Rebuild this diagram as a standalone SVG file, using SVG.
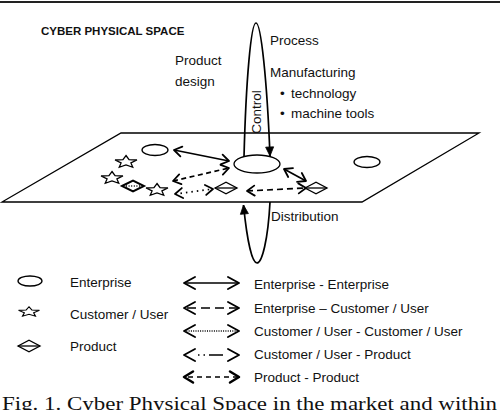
<svg xmlns="http://www.w3.org/2000/svg" width="500" height="410" viewBox="0 0 500 410">
<style>
.t{font-family:"Liberation Sans",Arial,sans-serif;font-size:13.5px;fill:#111}
.b{font-weight:bold;font-size:11.5px}
.cap{font-family:"Liberation Serif","Times New Roman",serif;font-size:18px;fill:#111}
.sh{fill:#fff;stroke:#000;stroke-width:1.3}
.ln{fill:none;stroke:#000;stroke-width:1.7}
.lg{fill:none;stroke:#000;stroke-width:1.7}
</style>
<defs>
<marker id="os" viewBox="-10 -7 12 14" refX="0" refY="0" markerWidth="12" markerHeight="14" markerUnits="userSpaceOnUse" orient="auto-start-reverse">
<path d="M-7.5,-5 L0,0 L-7.5,5" fill="none" stroke="#000" stroke-width="1.8" stroke-linecap="round" stroke-linejoin="round"/>
</marker>
<marker id="ol" viewBox="-13 -8 15 16" refX="0" refY="0" markerWidth="15" markerHeight="16" markerUnits="userSpaceOnUse" orient="auto-start-reverse">
<path d="M-11,-6 L0,0 L-11,6" fill="none" stroke="#000" stroke-width="1.9" stroke-linecap="round" stroke-linejoin="round"/>
</marker>
<marker id="olt" viewBox="-12 -8 14 16" refX="0" refY="0" markerWidth="14" markerHeight="16" markerUnits="userSpaceOnUse" orient="auto-start-reverse">
<path d="M-9,-5.5 L0,0 L-9,5.5" fill="none" stroke="#000" stroke-width="2.5" stroke-linecap="round" stroke-linejoin="round"/>
</marker>
<marker id="fa" viewBox="-10 -6 12 12" refX="0" refY="0" markerWidth="12" markerHeight="12" markerUnits="userSpaceOnUse" orient="auto">
<path d="M-9,-4 L0,0 L-9,4 Z" fill="#000" stroke="#000" stroke-width="0.8" stroke-linejoin="round"/>
</marker>
<path id="star" d="M0,-6.5 L3.05,-2.37 L10.94,-2.01 L4.92,0.9 L6.76,5.26 L0,2.93 L-6.76,5.26 L-4.92,0.9 L-10.94,-2.01 L-3.05,-2.37 Z"/>
<g id="dia"><path d="M-11,0 L0,-5.8 L11,0 L0,5.8 Z"/><path d="M-11,0 H11"/></g>
</defs>

<line x1="0" y1="2" x2="500" y2="2" stroke="#222" stroke-width="2"/>

<g id="title"><text class="t b" x="41" y="35">CYBER PHYSICAL SPACE</text></g>

<g id="plane"><path d="M121,133 L479,133 L362,202 L2,202 Z" fill="#fff" stroke="#000" stroke-width="1.3"/></g>

<g id="labels">
<text class="t" x="175" y="65">Product</text>
<text class="t" x="175" y="86">design</text>
<text class="t" x="270" y="45">Process</text>
<text class="t" x="270" y="77">Manufacturing</text>
<text class="t" x="280" y="98">•</text>
<text class="t" x="291" y="98">technology</text>
<text class="t" x="280" y="118">•</text>
<text class="t" x="291" y="118">machine tools</text>
<text class="t" x="271" y="221">Distribution</text>
<text class="t" transform="translate(261,112) rotate(-90)" text-anchor="middle">Control</text>
</g>

<g id="enterprise-main"><ellipse class="sh" cx="257" cy="164" rx="23" ry="9"/></g>
<g id="enterprise-left"><ellipse class="sh" cx="155" cy="150" rx="13" ry="5.5"/></g>
<g id="enterprise-right"><ellipse class="sh" cx="367" cy="162" rx="13" ry="5.5"/></g>
<g id="customer-1"><use href="#star" class="sh" transform="translate(126,162)"/></g>
<g id="customer-2"><use href="#star" class="sh" transform="translate(112,178)"/></g>
<g id="customer-3"><use href="#star" class="sh" transform="translate(157,190)"/></g>
<g id="product-dotted"><path d="M122,186 L133,180.5 L144,186 L133,191.5 Z" fill="#fff" stroke="#000" stroke-width="2"/><path d="M126,186 H141" stroke="#000" stroke-width="1.3" stroke-dasharray="1 1.6"/></g>
<g id="product-mid"><use href="#dia" class="sh" transform="translate(226,188)"/></g>
<g id="product-right"><use href="#dia" class="sh" transform="translate(316,188)"/></g>

<g id="connectors">
<path class="ln" d="M244,157 C246,80 251,23 256,23 C261,23 267,80 270,156" marker-end="url(#fa)"/>
<path class="ln" d="M270,202 C268,240 262,263 257,263 C252,263 247,240 243.5,205" marker-end="url(#fa)"/>
<line class="ln" x1="174" y1="150" x2="229" y2="161" marker-start="url(#os)" marker-end="url(#os)"/>
<line class="ln" x1="173" y1="181" x2="229" y2="168" stroke-dasharray="5 3.5" marker-start="url(#os)" marker-end="url(#os)"/>
<line class="ln" x1="175" y1="194" x2="213" y2="189" stroke-dasharray="1.5 4" marker-start="url(#os)" marker-end="url(#os)"/>
<line class="ln" x1="247" y1="191" x2="306" y2="188" stroke-dasharray="6 4" marker-start="url(#os)" marker-end="url(#os)"/>
<line class="ln" x1="284" y1="169" x2="306" y2="181" marker-start="url(#os)" marker-end="url(#os)"/>
</g>

<g id="legend">
<ellipse class="sh" cx="30" cy="281" rx="12" ry="5"/>
<text class="t" x="70" y="287">Enterprise</text>
<use href="#star" class="sh" transform="translate(29,312) scale(0.95,0.8)"/>
<text class="t" x="70" y="319">Customer / User</text>
<use href="#dia" class="sh" transform="translate(29,346)"/>
<text class="t" x="70" y="351">Product</text>

<line class="lg" x1="184" y1="283" x2="239" y2="283" marker-start="url(#ol)" marker-end="url(#ol)"/>
<line class="lg" x1="184" y1="308" x2="239" y2="308" stroke-dasharray="9 5" stroke-dashoffset="-3" marker-start="url(#ol)" marker-end="url(#ol)"/>
<line class="lg" x1="184" y1="331" x2="239" y2="331" stroke-width="1" stroke-dasharray="1 1.3" marker-start="url(#ol)" marker-end="url(#ol)"/>
<line class="lg" x1="184" y1="355" x2="239" y2="355" stroke-dasharray="0 14 1.5 4 1.5 4 14 20" marker-start="url(#ol)" marker-end="url(#ol)"/>
<line class="lg" x1="184" y1="377" x2="239" y2="377" stroke-dasharray="5 4" stroke-dashoffset="-4" marker-start="url(#olt)" marker-end="url(#olt)"/>
<text class="t" x="254" y="289">Enterprise - Enterprise</text>
<text class="t" x="254" y="313">Enterprise – Customer / User</text>
<text class="t" x="254" y="336">Customer / User - Customer / User</text>
<text class="t" x="254" y="359">Customer / User - Product</text>
<text class="t" x="254" y="382">Product - Product</text>
</g>

<g id="caption"><text class="cap" x="2" y="410" textLength="495" lengthAdjust="spacingAndGlyphs">Fig. 1. Cyber Physical Space in the market and within</text></g>
</svg>
